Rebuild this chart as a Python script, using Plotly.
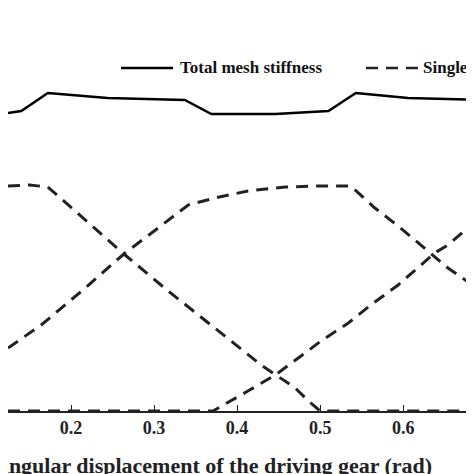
import plotly.graph_objects as go

# angular displacement (rad) and mesh stiffness (arbitrary units)
total_x = [0.124, 0.140, 0.172, 0.244, 0.337, 0.369, 0.446, 0.510, 0.543, 0.606, 0.694]
total_y = [2.98, 3.00, 3.18, 3.13, 3.11, 2.97, 2.97, 3.00, 3.18, 3.13, 3.11]

tooth_a_x = [0.124, 0.150, 0.172, 0.205, 0.265, 0.317, 0.373, 0.429, 0.470, 0.486, 0.500, 0.694]
tooth_a_y = [2.25, 2.26, 2.24, 2.00, 1.56, 1.20, 0.83, 0.46, 0.23, 0.10, 0.0, 0.0]

tooth_b_x = [0.124, 0.164, 0.217, 0.265, 0.308, 0.341, 0.373, 0.413, 0.458, 0.500, 0.537, 0.566, 0.594, 0.630, 0.654, 0.694]
tooth_b_y = [0.63, 0.86, 1.23, 1.58, 1.85, 2.06, 2.13, 2.20, 2.24, 2.25, 2.25, 2.03, 1.85, 1.60, 1.43, 1.20]

tooth_c_x = [0.124, 0.371, 0.413, 0.446, 0.477, 0.501, 0.534, 0.561, 0.594, 0.622, 0.638, 0.654, 0.682, 0.695]
tooth_c_y = [0.0, 0.0, 0.20, 0.36, 0.55, 0.70, 0.88, 1.06, 1.26, 1.46, 1.58, 1.66, 1.86, 1.93]

tick_vals = [0.2, 0.3, 0.4, 0.5, 0.6, 0.7]
tick_text = ["<b>0.2</b>", "<b>0.3</b>", "<b>0.4</b>", "<b>0.5</b>", "<b>0.6</b>", "<b>0.7</b>"]

serif = "Liberation Serif"
dash = "12px,8px"

fig = go.Figure()
fig.add_trace(go.Scatter(x=total_x, y=total_y, mode="lines", showlegend=False,
                         line={"color": "black", "width": 2.5}))
for xs, ys in [(tooth_a_x, tooth_a_y), (tooth_b_x, tooth_b_y), (tooth_c_x, tooth_c_y)]:
    fig.add_trace(go.Scatter(x=xs, y=ys, mode="lines", showlegend=False,
                             line={"color": "#222", "width": 3, "dash": dash}))

# legend drawn by hand so that it stays on one row, running off the right edge
leg_y = 1 - 60 / 403
fig.add_shape(type="line", xref="paper", yref="paper", x0=113 / 474, x1=165 / 474, y0=leg_y, y1=leg_y,
              line={"color": "black", "width": 2.5})
fig.add_shape(type="line", xref="paper", yref="paper", x0=358 / 474, x1=410 / 474, y0=leg_y, y1=leg_y,
              line={"color": "#222", "width": 2.5, "dash": dash})
fig.add_annotation(text="<b>Total mesh stiffness</b>", xref="paper", yref="paper", x=170 / 474, y=leg_y,
                   xanchor="left", yanchor="middle", showarrow=False,
                   font={"family": serif, "size": 17, "color": "#111"})
fig.add_annotation(text="<b>Single tooth mesh stiffness</b>", xref="paper", yref="paper", x=413 / 474, y=leg_y,
                   xanchor="left", yanchor="middle", showarrow=False,
                   font={"family": serif, "size": 17, "color": "#111"})

fig.add_annotation(text="<b>Angular displacement of the driving gear (rad)</b>", xref="paper", yref="paper",
                   x=-0.035, y=-0.135, xanchor="left", yanchor="middle", showarrow=False,
                   font={"family": serif, "size": 22, "color": "#222"})

fig.update_layout(
    width=474, height=474,
    margin={"l": 0, "r": 0, "t": 0, "b": 71},
    plot_bgcolor="white", paper_bgcolor="white",
    font={"family": serif, "color": "#222"},
    showlegend=False,
    xaxis={"range": [0.124, 0.695], "tickvals": tick_vals, "ticktext": tick_text,
           "ticks": "inside", "ticklen": 6, "tickcolor": "#222", "showgrid": False,
           "showline": True, "linecolor": "#222", "linewidth": 1.5, "zeroline": False,
           "tickfont": {"family": serif, "size": 18, "color": "#222"}},
    yaxis={"range": [0, 4.03], "visible": False, "showgrid": False},
)

fig.write_html("out.html")
